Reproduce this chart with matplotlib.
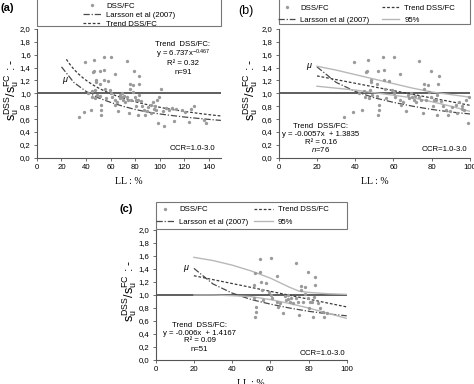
import numpy as np
import matplotlib
matplotlib.use("Agg")
import matplotlib.pyplot as plt
from matplotlib.patches import Rectangle

plt.rcParams['font.family'] = ['Liberation Sans', 'DejaVu Sans']
plt.rcParams['mathtext.fontset'] = 'custom'
plt.rcParams['mathtext.rm'] = 'Liberation Sans'
plt.rcParams['mathtext.it'] = 'Liberation Sans:italic'

# measured DSS/FC ratios (all OCR 1.0-3.0)
ll = [34, 38.6, 39.5, 43.7, 44.5, 45, 45.5, 46.3, 46.5, 48, 48.5, 47.5, 49, 42, 47,
      51.6, 51.8, 52, 52.4, 52.5, 51.5, 54.5, 54.8, 55, 55.5, 56, 57.7, 59.4, 60.3,
      60.5, 61, 63.3, 63.5, 64, 65, 66.4, 67.7, 69, 69.5, 70.5, 71, 72, 73.4, 73.5,
      74.5, 75.2, 75.8, 76, 77, 78, 78.3, 79.5, 79.8, 80.5, 81, 82, 82.5, 83, 83.5,
      83.6, 85, 86, 87.4, 88.3, 89.5, 68,
      90.5, 92.7, 94.4, 95.6, 97, 98, 99.5, 98.8, 93, 96,
      101.5, 102.5, 104, 105, 108, 110, 112, 113, 118, 121, 124, 125.5, 128, 136, 138]
ratio = [0.63, 0.71, 1.48, 0.74, 1.04, 0.95, 1.33, 1.35, 1.52, 1.20, 1.18, 1.05, 0.97, 1.00, 0.93,
         1.15, 1.34, 0.66, 0.74, 0.82, 0.96, 1.56, 1.36, 1.20, 1.07, 0.92, 1.19, 1.05, 1.57,
         1.00, 0.95, 1.30, 0.89, 0.82, 0.87, 0.72, 0.98, 1.00, 0.94, 0.89, 0.96, 0.87, 1.50, 0.95,
         0.89, 0.69, 1.14, 1.07, 0.89, 1.13, 1.02, 1.35, 0.95, 0.80, 0.89, 0.89, 0.66, 0.97, 1.15,
         1.27, 0.88, 0.80, 0.74, 0.66, 0.72, 0.92,
         0.79, 0.82, 0.87, 0.76, 0.74, 0.89, 0.95, 0.54, 0.70, 0.80,
         1.06, 0.72, 0.49, 0.78, 0.74, 0.78, 0.57, 0.76, 0.74, 0.71, 0.55, 0.76, 0.81, 0.58, 0.54]

# Larsson et al (2007)
lar_x = [20, 30, 40, 50, 60, 70, 80, 90, 100, 110, 120, 130, 140, 150]
lar_y = [1.41, 1.17, 1.03, 0.93, 0.86, 0.80, 0.75, 0.71, 0.68, 0.656, 0.633, 0.614, 0.596, 0.58]

# 95% lines
b95_x = [20, 30, 40, 50, 60, 70, 80, 90, 100]
b95_up = [1.42, 1.36, 1.29, 1.22, 1.15, 1.08, 1.02, 0.98, 0.94]
b95_lo = [1.11, 1.08, 1.05, 1.01, 0.97, 0.93, 0.87, 0.80, 0.72]
c95_x = [20, 30, 40, 50, 60, 70, 75, 80, 90, 100]
c95_up = [1.58, 1.53, 1.46, 1.37, 1.26, 1.12, 1.06, 1.04, 1.02, 1.01]
c95_lo = [1.00, 1.00, 0.99, 0.975, 0.93, 0.87, 0.835, 0.80, 0.72, 0.64]

# trend coefficients given in the chart
a_coef, a_exp = 6.737, -0.467
b_slope, b_int = -0.0057, 1.3835
c_slope, c_int = -0.006, 1.4167

ll = np.array(ll)
ratio = np.array(ratio)

PT = '#9a9a9a'
TR = '#3a3a3a'
LA = '#4a4a4a'
CI = '#b8b8b8'
FS = 5.6

fig = plt.figure(figsize=(4.74, 3.84), dpi=100)
ax_a = fig.add_axes([0.078, 0.589, 0.388, 0.336])
ax_b = fig.add_axes([0.588, 0.589, 0.4036, 0.336])
ax_c = fig.add_axes([0.3285, 0.0625, 0.403, 0.3385])


def style(ax, xmax, labx):
    ax.set_ylim(0, 2.0)
    ax.set_xlim(0, xmax)
    ax.set_yticks(np.arange(0, 2.01, 0.2))
    ax.set_yticklabels([('%.1f' % v).replace('.', ',') for v in np.arange(0, 2.01, 0.2)])
    ax.set_xticks(np.arange(0, xmax + 0.1, 20))
    for s in ['top', 'right']:
        ax.spines[s].set_visible(False)
    for s in ['left', 'bottom']:
        ax.spines[s].set_color('#555555')
        ax.spines[s].set_linewidth(0.8)
    ax.tick_params(labelsize=FS, length=2.5, width=0.6, color='#555555', pad=2)
    ax.axhline(1.0, color='#333333', lw=1.1, zorder=1)
    ax.set_xlabel('LL : %', family=['Liberation Serif'], fontsize=7, labelpad=4)
    ax.set_ylabel(r'$\mathregular{s_u^{DSS}/s_u^{FC}}$ : -', fontsize=9)
    ax.yaxis.set_label_coords(labx, 0.53)


def box(ax, y0, y1):
    ax.add_patch(Rectangle((0, y0), 1, y1 - y0, transform=ax.transAxes, fill=False,
                           edgecolor='#777777', lw=0.8, clip_on=False))


# (a)
style(ax_a, 150, -0.085)
ax_a.set_xticks(np.arange(0, 141, 20))
ax_a.plot(ll, ratio, 'o', ms=2.4, color=PT, mec='none', label='DSS/FC', zorder=3)
ax_a.plot(lar_x, lar_y, color=LA, lw=0.9, dashes=(5, 1.5, 1, 1.5), label='Larsson et al (2007)')
xa = np.linspace(24, 150, 100)
ax_a.plot(xa, a_coef * xa ** a_exp, color=TR, lw=0.9, dashes=(2.2, 1.5), label='Trend DSS/FC')
ax_a.text(23, 1.2, r'$\mu$', fontsize=6.5, ha='center', va='center')
ax_a.text(119, 1.75, 'Trend  DSS/FC:', fontsize=FS, ha='center', va='center')
ax_a.text(119, 1.605, r'y = 6.737x$^{-0.467}$', fontsize=FS, ha='center', va='center')
ax_a.text(119, 1.455, 'R² = 0.32', fontsize=FS, ha='center', va='center')
ax_a.text(119, 1.33, 'n=91', fontsize=FS, ha='center', va='center')
ax_a.text(145, 0.14, 'OCR=1.0-3.0', fontsize=FS, ha='right', va='center')
ax_a.legend(loc='center', bbox_to_anchor=(0.5, 1.105), ncol=1, fontsize=FS, frameon=False,
            handlelength=2.4, labelspacing=0.2, borderpad=0, borderaxespad=0, handletextpad=0.6)
box(ax_a, 1.023, 1.3)

# (b)
mb = ll < 100
style(ax_b, 100, -0.1)
ax_b.plot(ll[mb], ratio[mb], 'o', ms=2.4, color=PT, mec='none', label='DSS/FC', zorder=3)
ax_b.plot(lar_x[:9], lar_y[:9], color=LA, lw=0.9, dashes=(5, 1.5, 1, 1.5), label='Larsson et al (2007)')
xb = np.array([20, 100])
ax_b.plot(xb, b_slope * xb + b_int, color=TR, lw=0.9, dashes=(2.2, 1.5), label='Trend DSS/FC')
ax_b.plot(b95_x, b95_up, color=CI, lw=1.0, label='95%')
ax_b.plot(b95_x, b95_lo, color=CI, lw=1.0)
ax_b.text(16, 1.41, r'$\mu$', fontsize=6.5, ha='center', va='center')
ax_b.text(22, 0.485, 'Trend  DSS/FC:', fontsize=FS, ha='center', va='center')
ax_b.text(22, 0.357, 'y = -0.0057x  + 1.3835', fontsize=FS, ha='center', va='center')
ax_b.text(22, 0.237, 'R² = 0.16', fontsize=FS, ha='center', va='center')
ax_b.text(22, 0.124, r'$\mathit{n}$=76', fontsize=FS, ha='center', va='center')
ax_b.text(98.5, 0.124, 'OCR=1.0-3.0', fontsize=FS, ha='right', va='center')
ax_b.legend(loc='center', bbox_to_anchor=(0.459, 1.112), ncol=2, fontsize=FS, frameon=False,
            handlelength=2.2, labelspacing=0.55, borderpad=0, borderaxespad=0,
            handletextpad=0.6, columnspacing=1.7)
box(ax_b, 1.04, 1.3)

# (c)
mc = (ll >= 50) & (ll < 90)
style(ax_c, 100, -0.085)
ax_c.plot(ll[mc], ratio[mc], 'o', ms=2.4, color=PT, mec='none', label='DSS/FC', zorder=3)
ax_c.plot(lar_x[:9], lar_y[:9], color=LA, lw=0.9, dashes=(5, 1.5, 1, 1.5), label='Larsson et al (2007)')
xc = np.array([20, 100])
ax_c.plot(xc, c_slope * xc + c_int, color=TR, lw=0.9, dashes=(2.2, 1.5), label='Trend DSS/FC')
ax_c.plot(c95_x, c95_up, color=CI, lw=1.0, label='95%')
ax_c.plot(c95_x, c95_lo, color=CI, lw=1.0)
ax_c.text(16, 1.41, r'$\mu$', fontsize=6.5, ha='center', va='center')
ax_c.text(23, 0.538, 'Trend  DSS/FC:', fontsize=FS, ha='center', va='center')
ax_c.text(23, 0.41, 'y = -0.006x  + 1.4167', fontsize=FS, ha='center', va='center')
ax_c.text(23, 0.297, 'R² = 0.09', fontsize=FS, ha='center', va='center')
ax_c.text(23, 0.165, 'n=51', fontsize=FS, ha='center', va='center')
ax_c.text(99, 0.1, 'OCR=1.0-3.0', fontsize=FS, ha='right', va='center')
ax_c.legend(loc='center', bbox_to_anchor=(0.452, 1.108), ncol=2, fontsize=FS, frameon=False,
            handlelength=2.4, labelspacing=0.68, borderpad=0, borderaxespad=0,
            handletextpad=0.6, columnspacing=0.8)
box(ax_c, 1.008, 1.215)

fig.text(0.002, 0.978, '(a)', fontsize=8, fontweight='bold', va='center')
fig.text(0.503, 0.972, '(b)', fontsize=9, va='center')
fig.text(0.252, 0.455, '(c)', fontsize=8, fontweight='bold', va='center')

fig.savefig('out.png', dpi=100)
